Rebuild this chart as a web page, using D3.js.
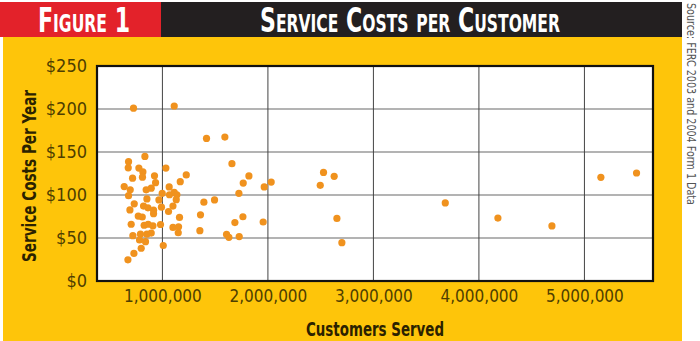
<!DOCTYPE html>
<html>
<head>
<meta charset="utf-8">
<script src="https://cdn.jsdelivr.net/npm/d3@7"></script>
<style>
  html, body { margin: 0; padding: 0; background: #fff; }
  svg { display: block; }
  .narrow { font-family: "Liberation Sans Narrow", "DejaVu Sans Condensed", "Liberation Sans", sans-serif; }
</style>
</head>
<body>
<svg id="chart" width="700" height="341"></svg>
<script>
// Customers served by each utility and its yearly service cost per customer
const customers = [
  726000, 1112000, 1418000, 834000, 679000, 676000, 777000, 815000, 1033000, 811000,
  717000, 925000, 1226000, 1169000, 935000, 638000, 695000, 846000, 894000, 1064000,
  679000, 998000, 1112000, 1067000, 1137000, 853000, 967000, 1131000, 733000, 821000,
  863000, 991000, 1100000, 1393000, 692000, 916000, 916000, 1058000, 771000, 809000,
  1162000, 1361000, 704000, 827000, 865000, 910000, 982000, 1100000, 1153000, 1355000,
  720000, 792000, 853000, 894000, 1150000, 783000, 840000, 1008000, 799000, 730000,
  673000,
  1592000, 1659000, 1820000, 1766000, 2031000, 1965000, 1725000, 1494000, 1763000, 1687000,
  1955000, 1608000, 1630000, 1728000, 2527000, 2628000, 2496000, 2654000, 2701000,
  3681000, 4180000, 4692000, 5156000, 5494000
];
const costs = [
  201, 203.5, 165.8, 144.8, 138.7, 131.6, 131.3, 126.8, 131.3, 120.7,
  119.6, 122.3, 123.4, 115.5, 114.3, 109.8, 106, 106, 107.9, 109.4,
  99.2, 101.9, 103, 100.3, 100.3, 95.4, 94.3, 94.6, 89.7, 87.1,
  85.1, 85.9, 87.1, 91.7, 82.7, 82.4, 78.2, 80.8, 75.5, 74.4,
  73.9, 77, 66, 64.8, 66, 64.2, 65.7, 62.3, 63, 58.5,
  52.7, 54.5, 54.5, 55.7, 56.1, 47.7, 45.7, 41.3, 38.1, 32.1,
  24.6,
  167.4, 136.4, 122.2, 113.9, 115, 109.4, 102, 94.3, 74.7, 67.9,
  68.6, 54.2, 50.8, 51.6, 126.3, 121.7, 111.2, 72.8, 44.6,
  90.8, 73.2, 64, 120.6, 125.6
];
const xTicks = [1000000, 2000000, 3000000, 4000000, 5000000];
const yTicks = [0, 50, 100, 150, 200, 250];

const svg = d3.select("#chart");

// Page background panels
svg.append("rect").attr("x", 3).attr("y", 37).attr("width", 679).attr("height", 304).attr("fill", "#FEC50A");
svg.append("rect").attr("x", 0).attr("y", 2).attr("width", 682).attr("height", 35).attr("fill", "#231F20");
svg.append("rect").attr("x", 0).attr("y", 2).attr("width", 161).attr("height", 35).attr("fill", "#E3222A");

// Headings in small caps
svg.append("text").attr("class", "narrow")
  .attr("x", 38).attr("y", 32).attr("fill", "#fff").attr("font-weight", "bold")
  .attr("font-size", 34).style("font-variant", "small-caps")
  .attr("textLength", 92).attr("lengthAdjust", "spacingAndGlyphs")
  .text("Figure 1");

svg.append("text").attr("class", "narrow")
  .attr("x", 260).attr("y", 32).attr("fill", "#fff").attr("font-weight", "bold")
  .attr("font-size", 34).style("font-variant", "small-caps")
  .attr("textLength", 300).attr("lengthAdjust", "spacingAndGlyphs")
  .text("Service Costs per Customer");

// Source note along the right edge
svg.append("text").attr("class", "narrow")
  .attr("transform", "translate(687,3) rotate(90)")
  .attr("font-size", 12.5).attr("fill", "#555")
  .attr("textLength", 202).attr("lengthAdjust", "spacingAndGlyphs")
  .text("Source: FERC 2003 and 2004 Form 1 Data");

// Plot area
const plot = { left: 97, right: 653, top: 66, bottom: 281 };
const x = d3.scaleLinear().domain([380000, 5650000]).range([plot.left, plot.right]);
const y = d3.scaleLinear().domain([0, 250]).range([plot.bottom, plot.top]);

svg.append("rect")
  .attr("x", plot.left).attr("y", plot.top)
  .attr("width", plot.right - plot.left).attr("height", plot.bottom - plot.top)
  .attr("fill", "#fff");

// Horizontal grid
svg.append("g").selectAll("line").data(yTicks.filter(v => v > 0 && v < 250)).join("line")
  .attr("x1", plot.left).attr("x2", plot.right)
  .attr("y1", d => y(d)).attr("y2", d => y(d))
  .attr("stroke", "#9a9a9a").attr("stroke-width", 1.5);

// Vertical grid
svg.append("g").selectAll("line").data(xTicks).join("line")
  .attr("y1", plot.top).attr("y2", plot.bottom)
  .attr("x1", d => x(d)).attr("x2", d => x(d))
  .attr("stroke", "#444").attr("stroke-width", 1);

// Frame
svg.append("rect")
  .attr("x", plot.left).attr("y", plot.top)
  .attr("width", plot.right - plot.left).attr("height", plot.bottom - plot.top)
  .attr("fill", "none").attr("stroke", "#111").attr("stroke-width", 2.2);

// Axes (labels only)
const yAxis = d3.axisLeft(y).tickValues(yTicks).tickSize(0).tickPadding(10)
  .tickFormat(d => "$" + d);
const gy = svg.append("g").attr("transform", `translate(${plot.left},0)`).call(yAxis);
gy.select(".domain").remove();
gy.selectAll("text").attr("class", "narrow").attr("font-size", 18).attr("fill", "#4e3e00");

const xAxis = d3.axisBottom(x).tickValues(xTicks).tickSize(0).tickPadding(9)
  .tickFormat(d3.format(","));
const gx = svg.append("g").attr("transform", `translate(0,${plot.bottom})`).call(xAxis);
gx.select(".domain").remove();
gx.selectAll("text").attr("class", "narrow").attr("font-size", 17).attr("fill", "#4e3e00");

// Axis titles
svg.append("text").attr("class", "narrow")
  .attr("x", (plot.left + plot.right) / 2).attr("y", 336)
  .attr("text-anchor", "middle").attr("font-size", 20).attr("font-weight", "bold")
  .attr("fill", "#2b2200")
  .attr("textLength", 138).attr("lengthAdjust", "spacingAndGlyphs")
  .text("Customers Served");

svg.append("text").attr("class", "narrow")
  .attr("transform", "translate(36,176) rotate(-90)")
  .attr("text-anchor", "middle").attr("font-size", 19).attr("font-weight", "bold")
  .attr("fill", "#2b2200")
  .attr("textLength", 172).attr("lengthAdjust", "spacingAndGlyphs")
  .text("Service Costs Per Year");

// Points
svg.append("g").selectAll("circle").data(customers.map((c, i) => [c, costs[i]])).join("circle")
  .attr("cx", d => x(d[0])).attr("cy", d => y(d[1]))
  .attr("r", 3.6).attr("fill", "#F0921E");
</script>
</body>
</html>
